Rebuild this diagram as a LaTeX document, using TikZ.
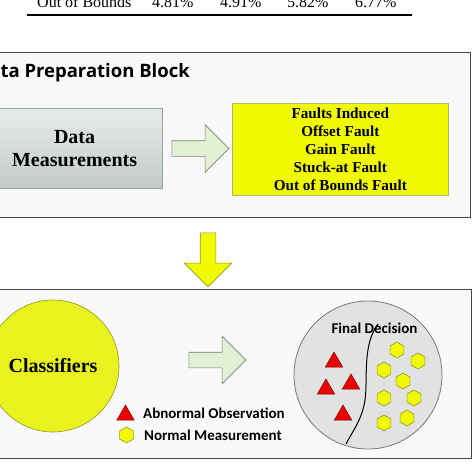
\documentclass[tikz,border=0pt]{standalone}
\usepackage{fontspec}
\setmainfont{Liberation Serif}
\setsansfont{Carlito}
\newfontfamily\titlefont{Open Sans}
\usetikzlibrary{shapes, positioning, arrows}

\definecolor{blockfill}{RGB}{249,249,249}
\definecolor{blockline}{RGB}{70,70,70}
\definecolor{graytop}{RGB}{230,234,234}
\definecolor{graybot}{RGB}{196,202,202}
\definecolor{grayline}{RGB}{150,160,160}
\definecolor{arrowfill}{RGB}{226,240,212}
\definecolor{arrowline}{RGB}{120,130,115}
\definecolor{faultyellow}{RGB}{240,250,0}
\definecolor{clfyellow}{RGB}{232,242,30}
\definecolor{yellowline}{RGB}{150,150,40}
\definecolor{decfill}{RGB}{225,226,226}
\definecolor{decline}{RGB}{120,120,120}
\definecolor{obsred}{RGB}{235,0,0}
\definecolor{obsline}{RGB}{130,0,0}

\begin{document}
\begin{tikzpicture}[
        x=1pt, y=-1pt,
        tabtext/.style={font=\fontsize{16}{18}\selectfont, inner sep=0pt},
        block/.style={draw=blockline, fill=blockfill, line width=1.2pt},
        sanslabel/.style={font=\sffamily\bfseries\fontsize{15}{17}\selectfont, inner sep=0pt},
        bigserif/.style={font=\bfseries\fontsize{20}{23}\selectfont, align=center},
        graybox/.style={draw=grayline, top color=graytop, bottom color=graybot, line width=0.8pt, bigserif},
        faultbox/.style={draw=yellowline!70, fill=faultyellow, line width=0.6pt,
          font=\bfseries\fontsize{15.2}{18}\selectfont, align=center},
        blockarrow/.style={single arrow, inner sep=7.5pt, single arrow head extend=16pt,
          line width=0.6pt},
        greenarrow/.style={blockarrow, draw=arrowline, fill=arrowfill},
        yellowarrow/.style={blockarrow, draw=yellowline, fill=faultyellow, shape border rotate=270},
        abnormal/.style={regular polygon, regular polygon sides=3, minimum size=20pt, inner sep=0pt,
          fill=obsred, draw=obsline, line width=0.5pt},
        normal/.style={regular polygon, regular polygon sides=6, shape border rotate=30,
          minimum size=16pt, inner sep=0pt, fill=faultyellow, draw=yellowline, line width=0.6pt}
      ]
      \useasboundingbox (0,0) rectangle (474,474);
      \clip (0,0) rectangle (474,474);

      % end of the table above
      \node[tabtext, anchor=base west] (oob) at (37,7) {Out of Bounds};
      \node[tabtext, anchor=base west] (vala) at (152,7) {4.81\%};
      \node[tabtext, anchor=base west] (valb) at (220,7) {4.91\%};
      \node[tabtext, anchor=base west] (valc) at (287,7) {5.82\%};
      \node[tabtext, anchor=base west] (vald) at (355,7) {6.77\%};
      \draw[line width=1.3pt] (27,15) -- (412,15);

      % data preparation block
      \node[block, minimum width=482, minimum height=165, anchor=north east] (prep) at (471,52) {};
      \node[inner sep=0pt, font=\titlefont\bfseries\fontsize{18.5}{21}\selectfont, anchor=base east] (preptitle) at (190,77) {Data Preparation Block};
      \node[graybox, minimum width=176, minimum height=80, anchor=north east] (meas) at (163,108) {Data\\Measurements};
      \node[greenarrow, minimum height=57, minimum width=47] (arrmeas) at (196.5,148.5) {};
      \node[faultbox, minimum width=216, minimum height=92, anchor=north west] (faults) at (232,103)
        {Faults Induced\\Offset Fault\\Gain Fault\\Stuck-at Fault\\Out of Bounds Fault};

      \node[yellowarrow, minimum height=54, minimum width=46] (arrdown) at (208,256) {};

      % decision block
      \node[block, minimum width=482, minimum height=169, anchor=north east] (decide) at (472,289) {};
      \node[bigserif, circle, draw=yellowline, fill=clfyellow, line width=0.6pt, minimum size=132] (clf) at (53,366) {Classifiers};
      \node[greenarrow, minimum height=57, minimum width=46] (arrclf) at (213.5,360) {};

      \node[abnormal] (legabn) at (125.5,415) {};
      \node[sanslabel, anchor=west] (legabntext) at (143,413) {Abnormal Observation};
      \node[normal] (legnorm) at (126.5,435) {};
      \node[sanslabel, anchor=west] (legnormtext) at (144,435) {Normal Measurement};

      \node[circle, draw=decline, fill=decfill, line width=0.8pt, minimum size=148] (final) at (368,375) {};
      \node[sanslabel] (finaltext) at (374.5,328) {Final Decision};
      \draw[line width=1pt] (378,324) .. controls (362,345) and (368,380) .. (365,400)
        .. controls (362,420) and (352,432) .. (346,444);

      \foreach \x/\y [count=\i] in {334/362, 326/389, 351/384, 343/415}
        \node[abnormal] (abn\i) at (\x,\y) {};
      \foreach \x/\y [count=\i] in {397/350, 418/361, 384/370, 403/381, 384/398, 414/398, 384/423, 407/418}
        \node[normal] (norm\i) at (\x,\y) {};
\end{tikzpicture}
\end{document}
